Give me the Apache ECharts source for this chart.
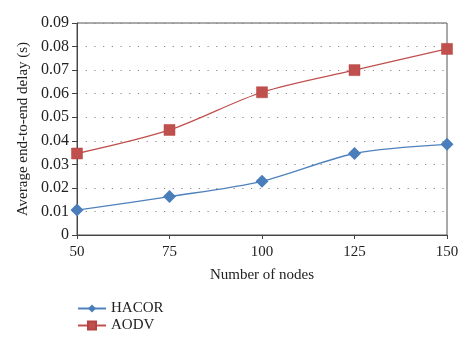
<!DOCTYPE html>
<html><head><meta charset="utf-8">
<script src="https://cdn.jsdelivr.net/npm/echarts@6/dist/echarts.min.js"></script>
<style>html,body{margin:0;padding:0;background:#fff}#c{width:474px;height:349px}</style>
</head><body><div id="c"></div>
<script>
var nodes = [50, 75, 100, 125, 150];
var hacor = [0.0106, 0.0163, 0.0228, 0.0346, 0.0385];
var aodv = [0.0346, 0.0446, 0.0606, 0.0700, 0.0790];
var seriesNames = ['HACOR', 'AODV'];

function pairs(v) { return nodes.map(function (n, i) { return [n, v[i]]; }); }
var F = 'Liberation Serif';
var chart = echarts.init(document.getElementById('c'));
chart.setOption({
  animation: false,
  textStyle: { fontFamily: F },
  grid: { left: 77, right: 27, top: 23, bottom: 114, outerBoundsMode: 'none', containLabel: false,
    show: true, borderColor: '#555', borderWidth: 1, backgroundColor: 'transparent' },
  legend: {
    orient: 'vertical', left: 72, top: 296, itemWidth: 28, itemHeight: 10, itemGap: 2,
    textStyle: { fontFamily: F, fontSize: 15, color: '#222' },
    data: seriesNames
  },
  xAxis: {
    type: 'value', min: 50, max: 150, interval: 25,
    name: 'Number of nodes', nameLocation: 'middle', nameGap: 33,
    nameTextStyle: { fontFamily: F, fontSize: 15, color: '#222' },
    axisLine: { lineStyle: { color: '#444' } },
    axisTick: { show: true, length: 4, lineStyle: { color: '#444' } },
    axisLabel: { fontFamily: F, fontSize: 15, color: '#222', margin: 10 },
    splitLine: { show: false }
  },
  yAxis: {
    type: 'value', min: 0, max: 0.09, interval: 0.01,
    name: 'Average end-to-end delay (s)', nameLocation: 'middle', nameGap: 46,
    nameTextStyle: { fontFamily: F, fontSize: 15, color: '#222' },
    axisLine: { show: true, lineStyle: { color: '#444' } },
    axisTick: { show: true, length: 5, lineStyle: { color: '#444' } },
    axisLabel: { fontFamily: F, fontSize: 16, color: '#222', margin: 8,
      formatter: function (v) { return v === 0 ? '0' : v.toFixed(2); } },
    splitLine: { show: true, lineStyle: { color: '#888', width: 1, type: [1.2, 7.5] } }
  },
  series: [
    { name: seriesNames[0], type: 'line', smooth: 0.3, data: pairs(hacor),
      symbol: 'diamond', symbolSize: 13,
      lineStyle: { color: '#4f81bd', width: 1.3 },
      itemStyle: { color: '#4a7ebb' } },
    { name: seriesNames[1], type: 'line', smooth: 0.3, data: pairs(aodv),
      symbol: 'rect', symbolSize: 11,
      lineStyle: { color: '#c0504d', width: 1.3 },
      itemStyle: { color: '#c0504d', borderColor: '#b5433f', borderWidth: 0.5 } }
  ]
});
</script></body></html>
